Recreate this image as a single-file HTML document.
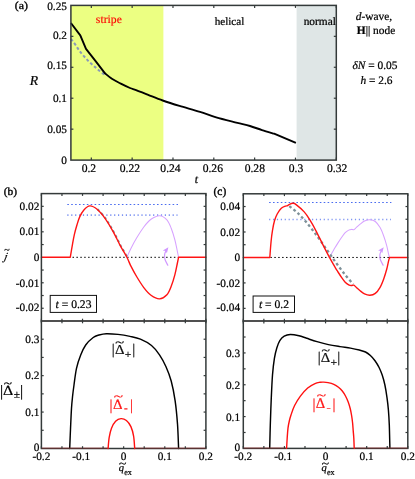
<!DOCTYPE html>
<html><head><meta charset="utf-8"><style>
html,body{margin:0;padding:0;background:#fff;}
body{width:415px;height:479px;overflow:hidden;}
svg{display:block;font-family:'Liberation Serif','Times New Roman',serif}
text{text-rendering:geometricPrecision;font-kerning:none;}
.pl{stroke-width:0.35px}
.thin{stroke-width:0.12px}
</style></head><body>
<svg width="415" height="479" viewBox="0 0 415 479" font-family="'Liberation Serif','Times New Roman',serif">
<rect x="70.9" y="5.4" width="92.48" height="154.7" fill="#ecff82"/>
<rect x="296.6" y="5.4" width="39.7" height="154.7" fill="#dfe6e6"/>
<text x="95.87" y="22.56" font-size="11.7" fill="#ff0000" class="thin" stroke="#ff0000" stroke-width="0.22">stripe</text>
<text x="214.64" y="25.04" font-size="11.16" fill="#000" stroke="#000" stroke-width="0.22">helical</text>
<text x="303.69" y="25.44" font-size="11.36" fill="#000" stroke="#000" stroke-width="0.22">normal</text>
<path d="M71 39C71.35 39.43 72.27 40.5 73.1 41.6C73.93 42.7 75.05 44.23 76 45.6C76.95 46.97 77.82 48.4 78.8 49.8C79.78 51.2 80.8 52.67 81.9 54C83 55.33 84.25 56.57 85.4 57.8C86.55 59.03 87.6 60.22 88.8 61.4C90 62.58 91.37 63.8 92.6 64.9C93.83 66 94.97 66.95 96.2 68C97.43 69.05 98.78 70.22 100 71.2C101.22 72.18 102.57 73.27 103.5 73.9C104.43 74.53 105.25 74.82 105.6 75" fill="none" stroke="#8a9ab8" stroke-width="2" stroke-linejoin="round" stroke-dasharray="2.9 2.2" stroke-linecap="butt"/>
<path d="M70.9 23 L80.3 35.3 L86 48.9 L95.8 61.3 L105 73.3C106.15 74.22 109.35 77.12 111.9 78.8C114.45 80.48 117.28 81.87 120.3 83.4C123.32 84.93 127.37 86.88 130 88C132.63 89.12 133.07 88.95 136.1 90.1C139.13 91.25 143.77 93.17 148.2 94.9C152.63 96.63 157.48 98.67 162.7 100.5C167.92 102.33 173.28 104.02 179.5 105.9C185.72 107.78 193.88 109.88 200 111.8C206.12 113.72 209.97 115.57 216.2 117.4C222.43 119.23 231.77 121.37 237.4 122.8C243.03 124.23 245.9 124.78 250 126C254.1 127.22 257.98 128.82 262 130.1C266.02 131.38 272.08 133.1 274.1 133.7 L295.9 142.9" fill="none" stroke="#000" stroke-width="1.9" stroke-linejoin="round" stroke-linecap="butt"/>
<rect x="70.9" y="5.4" width="265.4" height="154.7" fill="none" stroke="#343a3a" stroke-width="1.5"/>
<line x1="91.32" y1="160.1" x2="91.32" y2="157.6" stroke="#343a3a" stroke-width="1.2"/>
<line x1="91.32" y1="5.4" x2="91.32" y2="7.9" stroke="#343a3a" stroke-width="1.2"/>
<text x="88.9" y="171.6" font-size="11.6" text-anchor="middle" fill="#000" stroke="#000" stroke-width="0.22">0.2</text>
<line x1="132.15" y1="160.1" x2="132.15" y2="157.6" stroke="#343a3a" stroke-width="1.2"/>
<line x1="132.15" y1="5.4" x2="132.15" y2="7.9" stroke="#343a3a" stroke-width="1.2"/>
<text x="129.9" y="171.6" font-size="11.6" text-anchor="middle" fill="#000" stroke="#000" stroke-width="0.22">0.22</text>
<line x1="172.98" y1="160.1" x2="172.98" y2="157.6" stroke="#343a3a" stroke-width="1.2"/>
<line x1="172.98" y1="5.4" x2="172.98" y2="7.9" stroke="#343a3a" stroke-width="1.2"/>
<text x="170.5" y="171.6" font-size="11.6" text-anchor="middle" fill="#000" stroke="#000" stroke-width="0.22">0.24</text>
<line x1="213.81" y1="160.1" x2="213.81" y2="157.6" stroke="#343a3a" stroke-width="1.2"/>
<line x1="213.81" y1="5.4" x2="213.81" y2="7.9" stroke="#343a3a" stroke-width="1.2"/>
<text x="212.8" y="171.6" font-size="11.6" text-anchor="middle" fill="#000" stroke="#000" stroke-width="0.22">0.26</text>
<line x1="254.64" y1="160.1" x2="254.64" y2="157.6" stroke="#343a3a" stroke-width="1.2"/>
<line x1="254.64" y1="5.4" x2="254.64" y2="7.9" stroke="#343a3a" stroke-width="1.2"/>
<text x="254.8" y="171.6" font-size="11.6" text-anchor="middle" fill="#000" stroke="#000" stroke-width="0.22">0.28</text>
<line x1="295.47" y1="160.1" x2="295.47" y2="157.6" stroke="#343a3a" stroke-width="1.2"/>
<line x1="295.47" y1="5.4" x2="295.47" y2="7.9" stroke="#343a3a" stroke-width="1.2"/>
<text x="296" y="171.6" font-size="11.6" text-anchor="middle" fill="#000" stroke="#000" stroke-width="0.22">0.3</text>
<line x1="336.3" y1="160.1" x2="336.3" y2="157.6" stroke="#343a3a" stroke-width="1.2"/>
<line x1="336.3" y1="5.4" x2="336.3" y2="7.9" stroke="#343a3a" stroke-width="1.2"/>
<text x="337.2" y="171.6" font-size="11.6" text-anchor="middle" fill="#000" stroke="#000" stroke-width="0.22">0.32</text>
<line x1="70.9" y1="129.16" x2="73.4" y2="129.16" stroke="#343a3a" stroke-width="1.2"/>
<line x1="336.3" y1="129.16" x2="333.8" y2="129.16" stroke="#343a3a" stroke-width="1.2"/>
<line x1="70.9" y1="98.22" x2="73.4" y2="98.22" stroke="#343a3a" stroke-width="1.2"/>
<line x1="336.3" y1="98.22" x2="333.8" y2="98.22" stroke="#343a3a" stroke-width="1.2"/>
<line x1="70.9" y1="67.28" x2="73.4" y2="67.28" stroke="#343a3a" stroke-width="1.2"/>
<line x1="336.3" y1="67.28" x2="333.8" y2="67.28" stroke="#343a3a" stroke-width="1.2"/>
<line x1="70.9" y1="36.34" x2="73.4" y2="36.34" stroke="#343a3a" stroke-width="1.2"/>
<line x1="336.3" y1="36.34" x2="333.8" y2="36.34" stroke="#343a3a" stroke-width="1.2"/>
<text x="67" y="10.4" font-size="11.3" text-anchor="end" fill="#000" stroke="#000" stroke-width="0.22">0.25</text>
<text x="67" y="38.7" font-size="11.3" text-anchor="end" fill="#000" stroke="#000" stroke-width="0.22">0.2</text>
<text x="67" y="69" font-size="11.3" text-anchor="end" fill="#000" stroke="#000" stroke-width="0.22">0.15</text>
<text x="67" y="101.6" font-size="11.3" text-anchor="end" fill="#000" stroke="#000" stroke-width="0.22">0.1</text>
<text x="67" y="133.2" font-size="11.3" text-anchor="end" fill="#000" stroke="#000" stroke-width="0.22">0.05</text>
<text x="67" y="164.1" font-size="11.3" text-anchor="end" fill="#000" stroke="#000" stroke-width="0.22">0</text>
<text x="29.72" y="84.55" font-size="13.74" fill="#000" font-style="italic" stroke="#000" stroke-width="0.22">R</text>
<text x="194.74" y="183.14" font-size="11.7" fill="#000" font-style="italic" stroke="#000" stroke-width="0.22">t</text>
<text transform="translate(14.73 8.95) scale(1.095 1)" font-size="10.81" fill="#000" class="pl" stroke="#000" stroke-width="0.22">(a)</text>
<text x="374" y="19.6" font-size="11.4" text-anchor="middle" stroke="#000" stroke-width="0.22"><tspan font-style="italic">d</tspan>-wave,</text>
<text x="376" y="33.8" font-size="11.4" text-anchor="middle" stroke="#000" stroke-width="0.22"><tspan font-weight="bold">H</tspan>|| node</text>
<text x="375" y="68.5" font-size="11.4" text-anchor="middle" stroke="#000" stroke-width="0.22"><tspan font-style="italic">&#948;N</tspan> = 0.05</text>
<text x="376.5" y="83.5" font-size="11.4" text-anchor="middle" stroke="#000" stroke-width="0.22"><tspan font-style="italic">h</tspan> = 2.6</text>
<line x1="67.3" y1="204.5" x2="178" y2="204.5" stroke="#4a6cf0" stroke-width="1.0" stroke-dasharray="1.6 2.3"/>
<line x1="67.3" y1="215.1" x2="177.5" y2="215.1" stroke="#7f95f2" stroke-width="1.7" stroke-dasharray="1.2 2.7"/>
<line x1="72.5" y1="257.3" x2="178" y2="257.3" stroke="#000" stroke-width="1.0" stroke-dasharray="1.5 2.4"/>
<path d="M126.9 257.3C127.55 255.87 129.18 251.9 130.8 248.7C132.42 245.5 134.43 241.72 136.6 238.1C138.77 234.48 141.4 230.13 143.8 227C146.2 223.87 148.38 221.18 151 219.3C153.62 217.42 156.85 215.62 159.5 215.7C162.15 215.78 164.93 217.67 166.9 219.8C168.87 221.93 169.97 225.13 171.3 228.5C172.63 231.87 173.9 236.23 174.9 240C175.9 243.77 176.68 248.2 177.3 251.1C177.92 254 178.38 256.35 178.6 257.4" fill="none" stroke="#d7a2ff" stroke-width="1.05" stroke-linejoin="round" stroke-linecap="round"/>
<path d="M97.45 209.05C98.8 210.6 102.83 214.55 105.55 218.35C108.27 222.15 111.27 227.4 113.75 231.85C116.23 236.3 118.2 240.85 120.45 245.05C122.7 249.25 126.12 255.05 127.25 257.05" fill="none" stroke="#7d9098" stroke-width="1.8" stroke-linejoin="round" stroke-dasharray="2.7 2.6" stroke-linecap="butt"/>
<path d="M41.4 257.3 L70.3 257.2C70.65 255.13 71.72 248.6 72.4 244.8C73.08 241 73.63 237.73 74.4 234.4C75.17 231.07 76.12 227.72 77 224.8C77.88 221.88 78.58 219.33 79.7 216.9C80.82 214.47 82.02 212.03 83.7 210.2C85.38 208.37 87.57 206.05 89.8 205.9C92.03 205.75 94.53 207.18 97.1 209.3C99.67 211.42 102.48 214.8 105.2 218.6C107.92 222.4 110.92 227.65 113.4 232.1C115.88 236.55 117.85 241.1 120.1 245.3C122.35 249.5 125.12 253.87 126.9 257.3C128.68 260.73 129.18 262.7 130.8 265.9C132.42 269.1 134.43 272.88 136.6 276.5C138.77 280.12 141.4 284.47 143.8 287.6C146.2 290.73 148.38 293.42 151 295.3C153.62 297.18 156.85 298.98 159.5 298.9C162.15 298.82 164.93 296.93 166.9 294.8C168.87 292.67 169.97 289.47 171.3 286.1C172.63 282.73 173.9 278.37 174.9 274.6C175.9 270.83 176.68 266.4 177.3 263.5C177.92 260.6 178.38 258.25 178.6 257.2L205.9 257.3" fill="none" stroke="#ff1414" stroke-width="1.4" stroke-linejoin="round" stroke-linecap="round"/>
<path d="M167.8 265.2C167.33 264.25 165.53 261.25 165 259.5C164.47 257.75 164.47 256.08 164.6 254.7C164.73 253.32 165.6 251.78 165.8 251.2" fill="none" stroke="#d097ff" stroke-width="1.2" stroke-linejoin="round" stroke-linecap="round"/>
<path d="M168.4 247.2 L162.8 250.6 L165.6 251 L166.9 253.2 Z" fill="#d097ff"/>
<path d="M69.7 448.5C69.83 445.28 70.2 435.9 70.5 429.2C70.8 422.5 71.15 413.83 71.5 408.3C71.85 402.77 72.18 399.88 72.6 396C73.02 392.12 73.35 389.62 74 385C74.65 380.38 75.38 373.3 76.5 368.3C77.62 363.3 79.17 358.88 80.7 355C82.23 351.12 83.62 347.92 85.7 345C87.78 342.08 90.98 339.17 93.2 337.5C95.42 335.83 96.82 335.63 99 335C101.18 334.37 103.13 333.8 106.3 333.7C109.47 333.6 114.05 333.95 118 334.4C121.95 334.85 126.27 335.6 130 336.4C133.73 337.2 136.82 337.68 140.4 339.2C143.98 340.72 148.32 342.9 151.5 345.5C154.68 348.1 157.08 351.27 159.5 354.8C161.92 358.33 164.05 362.33 166 366.7C167.95 371.07 169.68 375.35 171.2 381C172.72 386.65 174.05 393.43 175.1 400.6C176.15 407.77 176.92 416.02 177.5 424C178.08 431.98 178.42 444.42 178.6 448.5" fill="none" stroke="#000" stroke-width="1.45" stroke-linejoin="round" stroke-linecap="round"/>
<rect x="41.4" y="193.6" width="164.5" height="127.4" fill="none" stroke="#343a3a" stroke-width="1.5"/>
<rect x="41.4" y="321" width="164.5" height="127.5" fill="none" stroke="#343a3a" stroke-width="1.5"/>
<line x1="42.1" y1="321" x2="205.2" y2="321" stroke="#505050" stroke-width="1.9"/>
<line x1="41.4" y1="448.1" x2="108.1" y2="448.1" stroke="#a02525" stroke-width="1.0" stroke-opacity="0.6"/>
<line x1="134.7" y1="448.1" x2="205.9" y2="448.1" stroke="#a02525" stroke-width="1.0" stroke-opacity="0.6"/>
<path d="M108.1 448.5C108.28 446.65 108.63 440.78 109.2 437.4C109.77 434.02 110.43 430.9 111.5 428.2C112.57 425.5 114.02 422.8 115.6 421.2C117.18 419.6 119.2 418.72 121 418.6C122.8 418.48 124.75 419.17 126.4 420.5C128.05 421.83 129.7 424 130.9 426.6C132.1 429.2 132.97 432.45 133.6 436.1C134.23 439.75 134.52 446.43 134.7 448.5" fill="none" stroke="#ff1010" stroke-width="1.4" stroke-linejoin="round" stroke-linecap="round"/>
<line x1="41.4" y1="193.6" x2="41.4" y2="195.9" stroke="#343a3a" stroke-width="1.2"/>
<line x1="41.4" y1="321" x2="41.4" y2="318.7" stroke="#343a3a" stroke-width="1.2"/>
<line x1="41.4" y1="321" x2="41.4" y2="323.3" stroke="#343a3a" stroke-width="1.2"/>
<line x1="41.4" y1="448.5" x2="41.4" y2="446.2" stroke="#343a3a" stroke-width="1.2"/>
<line x1="61.96" y1="193.6" x2="61.96" y2="195.9" stroke="#343a3a" stroke-width="1.2"/>
<line x1="61.96" y1="321" x2="61.96" y2="318.7" stroke="#343a3a" stroke-width="1.2"/>
<line x1="61.96" y1="321" x2="61.96" y2="323.3" stroke="#343a3a" stroke-width="1.2"/>
<line x1="61.96" y1="448.5" x2="61.96" y2="446.2" stroke="#343a3a" stroke-width="1.2"/>
<line x1="82.53" y1="193.6" x2="82.53" y2="195.9" stroke="#343a3a" stroke-width="1.2"/>
<line x1="82.53" y1="321" x2="82.53" y2="318.7" stroke="#343a3a" stroke-width="1.2"/>
<line x1="82.53" y1="321" x2="82.53" y2="323.3" stroke="#343a3a" stroke-width="1.2"/>
<line x1="82.53" y1="448.5" x2="82.53" y2="446.2" stroke="#343a3a" stroke-width="1.2"/>
<line x1="103.09" y1="193.6" x2="103.09" y2="195.9" stroke="#343a3a" stroke-width="1.2"/>
<line x1="103.09" y1="321" x2="103.09" y2="318.7" stroke="#343a3a" stroke-width="1.2"/>
<line x1="103.09" y1="321" x2="103.09" y2="323.3" stroke="#343a3a" stroke-width="1.2"/>
<line x1="103.09" y1="448.5" x2="103.09" y2="446.2" stroke="#343a3a" stroke-width="1.2"/>
<line x1="123.65" y1="193.6" x2="123.65" y2="195.9" stroke="#343a3a" stroke-width="1.2"/>
<line x1="123.65" y1="321" x2="123.65" y2="318.7" stroke="#343a3a" stroke-width="1.2"/>
<line x1="123.65" y1="321" x2="123.65" y2="323.3" stroke="#343a3a" stroke-width="1.2"/>
<line x1="123.65" y1="448.5" x2="123.65" y2="446.2" stroke="#343a3a" stroke-width="1.2"/>
<line x1="144.21" y1="193.6" x2="144.21" y2="195.9" stroke="#343a3a" stroke-width="1.2"/>
<line x1="144.21" y1="321" x2="144.21" y2="318.7" stroke="#343a3a" stroke-width="1.2"/>
<line x1="144.21" y1="321" x2="144.21" y2="323.3" stroke="#343a3a" stroke-width="1.2"/>
<line x1="144.21" y1="448.5" x2="144.21" y2="446.2" stroke="#343a3a" stroke-width="1.2"/>
<line x1="164.78" y1="193.6" x2="164.78" y2="195.9" stroke="#343a3a" stroke-width="1.2"/>
<line x1="164.78" y1="321" x2="164.78" y2="318.7" stroke="#343a3a" stroke-width="1.2"/>
<line x1="164.78" y1="321" x2="164.78" y2="323.3" stroke="#343a3a" stroke-width="1.2"/>
<line x1="164.78" y1="448.5" x2="164.78" y2="446.2" stroke="#343a3a" stroke-width="1.2"/>
<line x1="185.34" y1="193.6" x2="185.34" y2="195.9" stroke="#343a3a" stroke-width="1.2"/>
<line x1="185.34" y1="321" x2="185.34" y2="318.7" stroke="#343a3a" stroke-width="1.2"/>
<line x1="185.34" y1="321" x2="185.34" y2="323.3" stroke="#343a3a" stroke-width="1.2"/>
<line x1="185.34" y1="448.5" x2="185.34" y2="446.2" stroke="#343a3a" stroke-width="1.2"/>
<line x1="205.9" y1="193.6" x2="205.9" y2="195.9" stroke="#343a3a" stroke-width="1.2"/>
<line x1="205.9" y1="321" x2="205.9" y2="318.7" stroke="#343a3a" stroke-width="1.2"/>
<line x1="205.9" y1="321" x2="205.9" y2="323.3" stroke="#343a3a" stroke-width="1.2"/>
<line x1="205.9" y1="448.5" x2="205.9" y2="446.2" stroke="#343a3a" stroke-width="1.2"/>
<line x1="41.4" y1="308.26" x2="43.7" y2="308.26" stroke="#343a3a" stroke-width="1.2"/>
<line x1="205.9" y1="308.26" x2="203.6" y2="308.26" stroke="#343a3a" stroke-width="1.2"/>
<line x1="41.4" y1="295.52" x2="43.7" y2="295.52" stroke="#343a3a" stroke-width="1.2"/>
<line x1="205.9" y1="295.52" x2="203.6" y2="295.52" stroke="#343a3a" stroke-width="1.2"/>
<line x1="41.4" y1="282.78" x2="43.7" y2="282.78" stroke="#343a3a" stroke-width="1.2"/>
<line x1="205.9" y1="282.78" x2="203.6" y2="282.78" stroke="#343a3a" stroke-width="1.2"/>
<line x1="41.4" y1="270.04" x2="43.7" y2="270.04" stroke="#343a3a" stroke-width="1.2"/>
<line x1="205.9" y1="270.04" x2="203.6" y2="270.04" stroke="#343a3a" stroke-width="1.2"/>
<line x1="41.4" y1="244.56" x2="43.7" y2="244.56" stroke="#343a3a" stroke-width="1.2"/>
<line x1="205.9" y1="244.56" x2="203.6" y2="244.56" stroke="#343a3a" stroke-width="1.2"/>
<line x1="41.4" y1="231.82" x2="43.7" y2="231.82" stroke="#343a3a" stroke-width="1.2"/>
<line x1="205.9" y1="231.82" x2="203.6" y2="231.82" stroke="#343a3a" stroke-width="1.2"/>
<line x1="41.4" y1="219.08" x2="43.7" y2="219.08" stroke="#343a3a" stroke-width="1.2"/>
<line x1="205.9" y1="219.08" x2="203.6" y2="219.08" stroke="#343a3a" stroke-width="1.2"/>
<line x1="41.4" y1="206.34" x2="43.7" y2="206.34" stroke="#343a3a" stroke-width="1.2"/>
<line x1="205.9" y1="206.34" x2="203.6" y2="206.34" stroke="#343a3a" stroke-width="1.2"/>
<line x1="41.4" y1="430.29" x2="43.7" y2="430.29" stroke="#343a3a" stroke-width="1.2"/>
<line x1="205.9" y1="430.29" x2="203.6" y2="430.29" stroke="#343a3a" stroke-width="1.2"/>
<line x1="41.4" y1="412.07" x2="43.7" y2="412.07" stroke="#343a3a" stroke-width="1.2"/>
<line x1="205.9" y1="412.07" x2="203.6" y2="412.07" stroke="#343a3a" stroke-width="1.2"/>
<line x1="41.4" y1="393.86" x2="43.7" y2="393.86" stroke="#343a3a" stroke-width="1.2"/>
<line x1="205.9" y1="393.86" x2="203.6" y2="393.86" stroke="#343a3a" stroke-width="1.2"/>
<line x1="41.4" y1="375.64" x2="43.7" y2="375.64" stroke="#343a3a" stroke-width="1.2"/>
<line x1="205.9" y1="375.64" x2="203.6" y2="375.64" stroke="#343a3a" stroke-width="1.2"/>
<line x1="41.4" y1="357.43" x2="43.7" y2="357.43" stroke="#343a3a" stroke-width="1.2"/>
<line x1="205.9" y1="357.43" x2="203.6" y2="357.43" stroke="#343a3a" stroke-width="1.2"/>
<line x1="41.4" y1="339.21" x2="43.7" y2="339.21" stroke="#343a3a" stroke-width="1.2"/>
<line x1="205.9" y1="339.21" x2="203.6" y2="339.21" stroke="#343a3a" stroke-width="1.2"/>
<text x="39.4" y="209.9" font-size="11.3" text-anchor="end" fill="#000" stroke="#000" stroke-width="0.22">0.02</text>
<text x="39.4" y="235.3" font-size="11.3" text-anchor="end" fill="#000" stroke="#000" stroke-width="0.22">0.01</text>
<text x="39.4" y="260.9" font-size="11.3" text-anchor="end" fill="#000" stroke="#000" stroke-width="0.22">0</text>
<text x="39.4" y="286.6" font-size="11.3" text-anchor="end" fill="#000" stroke="#000" stroke-width="0.22">-0.01</text>
<text x="39.4" y="311.4" font-size="11.3" text-anchor="end" fill="#000" stroke="#000" stroke-width="0.22">-0.02</text>
<text x="39.4" y="343" font-size="11.3" text-anchor="end" fill="#000" stroke="#000" stroke-width="0.22">0.3</text>
<text x="39.4" y="379.4" font-size="11.3" text-anchor="end" fill="#000" stroke="#000" stroke-width="0.22">0.2</text>
<text x="39.4" y="415.8" font-size="11.3" text-anchor="end" fill="#000" stroke="#000" stroke-width="0.22">0.1</text>
<text x="39.4" y="451.2" font-size="11.3" text-anchor="end" fill="#000" stroke="#000" stroke-width="0.22">0</text>
<text x="41.4" y="459.8" font-size="11.3" text-anchor="middle" fill="#000" stroke="#000" stroke-width="0.22">-0.2</text>
<text x="81.23" y="459.8" font-size="11.3" text-anchor="middle" fill="#000" stroke="#000" stroke-width="0.22">-0.1</text>
<text x="123.65" y="459.8" font-size="11.3" text-anchor="middle" fill="#000" stroke="#000" stroke-width="0.22">0</text>
<text x="164.78" y="459.8" font-size="11.3" text-anchor="middle" fill="#000" stroke="#000" stroke-width="0.22">0.1</text>
<text x="205.9" y="459.8" font-size="11.3" text-anchor="middle" fill="#000" stroke="#000" stroke-width="0.22">0.2</text>
<text x="118.7" y="471.41" font-size="10.53" fill="#000" font-style="italic" stroke="#000" stroke-width="0.22">q</text>
<text transform="translate(118.97 467.16) scale(1.298 1)" font-size="10.5" fill="#000" stroke="#000" stroke-width="0.22">~</text>
<text transform="translate(124.13 475.37) scale(0.946 1)" font-size="8.52" fill="#000" stroke="#000" stroke-width="0.22">ex</text>
<text transform="translate(3.75 194.83) scale(1.045 1)" font-size="10.92" fill="#000" class="pl" stroke="#000" stroke-width="0.22">(b)</text>
<rect x="50.2" y="295.4" width="46.3" height="17" fill="#fff" stroke="#111" stroke-width="1"/>
<text x="73.55" y="308.2" font-size="11.6" text-anchor="middle" stroke="#000" stroke-width="0.22"><tspan font-style="italic">t</tspan> = 0.23</text>
<text transform="translate(3.71 260.14) skewX(-12)" font-size="10.86" fill="#000" font-style="italic" stroke="#000" stroke-width="0.22">j</text>
<text x="4.37" y="252.74" font-size="10" fill="#000" stroke="#000" stroke-width="0.22">~</text>
<text x="0.06" y="395.93" font-size="15.83" fill="#000" stroke="#000" stroke-width="0.22">|</text>
<text transform="translate(3.82 386.57) scale(1.389 1)" font-size="11" fill="#000" stroke="#000" stroke-width="0.22">~</text>
<text transform="translate(3.05 395.45) scale(1.126 1)" font-size="14.09" fill="#000" stroke="#000" stroke-width="0.22">Δ</text>
<text transform="translate(13.78 397.55) scale(1.038 1)" font-size="10.97" fill="#000" stroke="#000" stroke-width="0.22">±</text>
<text x="19.96" y="395.93" font-size="15.83" fill="#000" stroke="#000" stroke-width="0.22">|</text>
<text x="111.64" y="354.47" font-size="14.73" fill="#111" stroke="#111" stroke-width="0.22">|</text>
<text transform="translate(115.19 346.02) scale(1.501 1)" font-size="11" fill="#111" stroke="#111" stroke-width="0.22">~</text>
<text transform="translate(115.09 354.35) scale(1.086 1)" font-size="13.63" fill="#111" stroke="#111" stroke-width="0.22">Δ</text>
<text transform="translate(124.87 357.64) scale(1.060 1)" font-size="10.95" fill="#111" stroke="#111" stroke-width="0.22">+</text>
<text x="132.24" y="354.47" font-size="14.73" fill="#111" stroke="#111" stroke-width="0.22">|</text>
<text x="109.52" y="409.7" font-size="15.06" fill="#ff1a1a" stroke="#ff1a1a" stroke-width="0.22">|</text>
<text transform="translate(113.87 400.47) scale(1.558 1)" font-size="11" fill="#ff1a1a" stroke="#ff1a1a" stroke-width="0.22">~</text>
<text transform="translate(112.99 409.35) scale(1.040 1)" font-size="14.24" fill="#ff1a1a" stroke="#ff1a1a" stroke-width="0.22">Δ</text>
<text transform="translate(124.04 412) scale(0.834 1)" font-size="13.39" fill="#ff1a1a" stroke="#ff1a1a" stroke-width="0.22">-</text>
<text x="130.12" y="409.7" font-size="15.06" fill="#ff1a1a" stroke="#ff1a1a" stroke-width="0.22">|</text>
<line x1="269.1" y1="202.5" x2="391.4" y2="202.5" stroke="#4a6cf0" stroke-width="1.0" stroke-dasharray="1.6 2.3"/>
<line x1="269.1" y1="219.5" x2="390.9" y2="219.5" stroke="#7f95f2" stroke-width="1.7" stroke-dasharray="1.2 2.7"/>
<line x1="270.4" y1="257.45" x2="389.8" y2="257.45" stroke="#000" stroke-width="1.0" stroke-dasharray="1.5 2.4"/>
<path d="M329.6 257.3C330.52 255.68 333.7 250 335.1 247.6C336.5 245.2 336.9 244.62 338 242.9C339.1 241.18 340.5 239 341.7 237.3C342.9 235.6 344.03 233.9 345.2 232.7C346.37 231.5 347.67 230.65 348.7 230.1C349.73 229.55 350.55 229.47 351.4 229.4C352.25 229.33 353 230 353.8 229.7C354.6 229.4 355.2 228.48 356.2 227.6C357.2 226.72 358.42 225.48 359.8 224.4C361.18 223.32 362.82 221.88 364.5 221.1C366.18 220.32 368.1 219.63 369.9 219.7C371.7 219.77 373.6 220.18 375.3 221.5C377 222.82 378.7 225.18 380.1 227.6C381.5 230.02 382.6 233 383.7 236C384.8 239 385.88 242.58 386.7 245.6C387.52 248.62 388.12 252.13 388.6 254.1C389.08 256.07 389.43 256.85 389.6 257.4" fill="none" stroke="#d7a2ff" stroke-width="1.05" stroke-linejoin="round" stroke-linecap="round"/>
<path d="M289.3 206.2C290.63 207.27 294.63 210.13 297.3 212.6C299.97 215.07 302.63 217.93 305.3 221C307.97 224.07 310.63 227.52 313.3 231C315.97 234.48 318.63 238.18 321.3 241.9C323.97 245.62 326.63 249.53 329.3 253.3C331.97 257.07 334.63 260.88 337.3 264.5C339.97 268.12 342.63 271.7 345.3 275C347.97 278.3 351.97 282.75 353.3 284.3" fill="none" stroke="#7d9098" stroke-width="2.3" stroke-linejoin="round" stroke-dasharray="2.7 2.6" stroke-linecap="butt"/>
<path d="M243.3 257.45 L269.8 257.5C270.02 254.78 270.65 245.73 271.1 241.2C271.55 236.67 271.93 233.7 272.5 230.3C273.07 226.9 273.72 223.52 274.5 220.8C275.28 218.08 276.07 216.1 277.2 214C278.33 211.9 279.93 209.52 281.3 208.2C282.67 206.88 284.35 206.52 285.4 206.1C286.45 205.68 286.92 206 287.6 205.7C288.28 205.4 288.62 204.7 289.5 204.3C290.38 203.9 291.8 203.25 292.9 203.3C294 203.35 294.22 203.17 296.1 204.6C297.98 206.03 301.9 209.35 304.2 211.9C306.5 214.45 307.98 216.83 309.9 219.9C311.82 222.97 313.58 226.27 315.7 230.3C317.82 234.33 320.28 239.55 322.6 244.1C324.92 248.65 327.52 253.73 329.6 257.6C331.68 261.47 333.7 264.9 335.1 267.3C336.5 269.7 336.9 270.28 338 272C339.1 273.72 340.5 275.9 341.7 277.6C342.9 279.3 344.03 281 345.2 282.2C346.37 283.4 347.67 284.25 348.7 284.8C349.73 285.35 350.55 285.43 351.4 285.5C352.25 285.57 353 284.9 353.8 285.2C354.6 285.5 355.2 286.42 356.2 287.3C357.2 288.18 358.42 289.42 359.8 290.5C361.18 291.58 362.82 293.02 364.5 293.8C366.18 294.58 368.1 295.27 369.9 295.2C371.7 295.13 373.6 294.72 375.3 293.4C377 292.08 378.7 289.72 380.1 287.3C381.5 284.88 382.6 281.9 383.7 278.9C384.8 275.9 385.88 272.32 386.7 269.3C387.52 266.28 388.12 262.77 388.6 260.8C389.08 258.83 389.43 258.05 389.6 257.5L407.8 257.45" fill="none" stroke="#ff1414" stroke-width="1.4" stroke-linejoin="round" stroke-linecap="round"/>
<path d="M383.1 265.2C382.63 264.25 380.83 261.25 380.3 259.5C379.77 257.75 379.77 256.08 379.9 254.7C380.03 253.32 380.9 251.78 381.1 251.2" fill="none" stroke="#d097ff" stroke-width="1.2" stroke-linejoin="round" stroke-linecap="round"/>
<path d="M383.7 247.2 L378.1 250.6 L380.9 251 L382.2 253.2 Z" fill="#d097ff"/>
<path d="M269.7 448.3C269.8 444.42 270.05 433.05 270.3 425C270.55 416.95 270.83 408.33 271.2 400C271.57 391.67 271.97 381.93 272.5 375C273.03 368.07 273.68 362.9 274.4 358.4C275.12 353.9 275.9 350.97 276.8 348C277.7 345.03 278.57 342.57 279.8 340.6C281.03 338.63 282.45 337.22 284.2 336.2C285.95 335.18 287.83 334.57 290.3 334.5C292.77 334.43 296.27 335.17 299 335.8C301.73 336.43 303.7 337.33 306.7 338.3C309.7 339.27 313.38 340.55 317 341.6C320.62 342.65 324.57 343.77 328.4 344.6C332.23 345.43 336.32 346.02 340 346.6C343.68 347.18 347.28 347.53 350.5 348.1C353.72 348.67 356.8 349.35 359.3 350C361.8 350.65 363.65 351.08 365.5 352C367.35 352.92 368.82 354.05 370.4 355.5C371.98 356.95 373.55 358.7 375 360.7C376.45 362.7 377.9 365.1 379.1 367.5C380.3 369.9 381.23 372.18 382.2 375.1C383.17 378.02 384.1 381.25 384.9 385C385.7 388.75 386.42 393.43 387 397.6C387.58 401.77 388.02 405.43 388.4 410C388.78 414.57 389.05 418.62 389.3 425C389.55 431.38 389.8 444.42 389.9 448.3" fill="none" stroke="#000" stroke-width="1.45" stroke-linejoin="round" stroke-linecap="round"/>
<rect x="243.3" y="193.8" width="164.5" height="127.3" fill="none" stroke="#343a3a" stroke-width="1.5"/>
<rect x="243.3" y="321.1" width="164.5" height="127.3" fill="none" stroke="#343a3a" stroke-width="1.5"/>
<line x1="244" y1="321.1" x2="407.1" y2="321.1" stroke="#505050" stroke-width="1.9"/>
<line x1="243.3" y1="448" x2="286.6" y2="448" stroke="#a02525" stroke-width="1.0" stroke-opacity="0.6"/>
<line x1="354.2" y1="448" x2="407.8" y2="448" stroke="#a02525" stroke-width="1.0" stroke-opacity="0.6"/>
<path d="M286.6 448.3C286.7 446.58 286.97 441.35 287.2 438C287.43 434.65 287.65 431.03 288 428.2C288.35 425.37 288.8 423.2 289.3 421C289.8 418.8 290.12 417.58 291 415C291.88 412.42 293.03 408.65 294.6 405.5C296.17 402.35 298.22 399.02 300.4 396.1C302.58 393.18 305.27 390.08 307.7 388C310.13 385.92 312.95 384.55 315 383.6C317.05 382.65 318.55 382.55 320 382.3C321.45 382.05 322.37 382.05 323.7 382.1C325.03 382.15 326.32 382.23 328 382.6C329.68 382.97 332.05 383.53 333.8 384.3C335.55 385.07 337.08 386.08 338.5 387.2C339.92 388.32 341.13 389.53 342.3 391C343.47 392.47 344.52 394.17 345.5 396C346.48 397.83 347.42 399.92 348.2 402C348.98 404.08 349.63 406.25 350.2 408.5C350.77 410.75 351.2 413.08 351.6 415.5C352 417.92 352.33 420.48 352.6 423C352.87 425.52 353 428.1 353.2 430.6C353.4 433.1 353.63 435.05 353.8 438C353.97 440.95 354.13 446.58 354.2 448.3" fill="none" stroke="#ff1010" stroke-width="1.4" stroke-linejoin="round" stroke-linecap="round"/>
<line x1="243.3" y1="193.8" x2="243.3" y2="196.1" stroke="#343a3a" stroke-width="1.2"/>
<line x1="243.3" y1="321.1" x2="243.3" y2="318.8" stroke="#343a3a" stroke-width="1.2"/>
<line x1="243.3" y1="321.1" x2="243.3" y2="323.4" stroke="#343a3a" stroke-width="1.2"/>
<line x1="243.3" y1="448.4" x2="243.3" y2="446.1" stroke="#343a3a" stroke-width="1.2"/>
<line x1="263.86" y1="193.8" x2="263.86" y2="196.1" stroke="#343a3a" stroke-width="1.2"/>
<line x1="263.86" y1="321.1" x2="263.86" y2="318.8" stroke="#343a3a" stroke-width="1.2"/>
<line x1="263.86" y1="321.1" x2="263.86" y2="323.4" stroke="#343a3a" stroke-width="1.2"/>
<line x1="263.86" y1="448.4" x2="263.86" y2="446.1" stroke="#343a3a" stroke-width="1.2"/>
<line x1="284.43" y1="193.8" x2="284.43" y2="196.1" stroke="#343a3a" stroke-width="1.2"/>
<line x1="284.43" y1="321.1" x2="284.43" y2="318.8" stroke="#343a3a" stroke-width="1.2"/>
<line x1="284.43" y1="321.1" x2="284.43" y2="323.4" stroke="#343a3a" stroke-width="1.2"/>
<line x1="284.43" y1="448.4" x2="284.43" y2="446.1" stroke="#343a3a" stroke-width="1.2"/>
<line x1="304.99" y1="193.8" x2="304.99" y2="196.1" stroke="#343a3a" stroke-width="1.2"/>
<line x1="304.99" y1="321.1" x2="304.99" y2="318.8" stroke="#343a3a" stroke-width="1.2"/>
<line x1="304.99" y1="321.1" x2="304.99" y2="323.4" stroke="#343a3a" stroke-width="1.2"/>
<line x1="304.99" y1="448.4" x2="304.99" y2="446.1" stroke="#343a3a" stroke-width="1.2"/>
<line x1="325.55" y1="193.8" x2="325.55" y2="196.1" stroke="#343a3a" stroke-width="1.2"/>
<line x1="325.55" y1="321.1" x2="325.55" y2="318.8" stroke="#343a3a" stroke-width="1.2"/>
<line x1="325.55" y1="321.1" x2="325.55" y2="323.4" stroke="#343a3a" stroke-width="1.2"/>
<line x1="325.55" y1="448.4" x2="325.55" y2="446.1" stroke="#343a3a" stroke-width="1.2"/>
<line x1="346.11" y1="193.8" x2="346.11" y2="196.1" stroke="#343a3a" stroke-width="1.2"/>
<line x1="346.11" y1="321.1" x2="346.11" y2="318.8" stroke="#343a3a" stroke-width="1.2"/>
<line x1="346.11" y1="321.1" x2="346.11" y2="323.4" stroke="#343a3a" stroke-width="1.2"/>
<line x1="346.11" y1="448.4" x2="346.11" y2="446.1" stroke="#343a3a" stroke-width="1.2"/>
<line x1="366.68" y1="193.8" x2="366.68" y2="196.1" stroke="#343a3a" stroke-width="1.2"/>
<line x1="366.68" y1="321.1" x2="366.68" y2="318.8" stroke="#343a3a" stroke-width="1.2"/>
<line x1="366.68" y1="321.1" x2="366.68" y2="323.4" stroke="#343a3a" stroke-width="1.2"/>
<line x1="366.68" y1="448.4" x2="366.68" y2="446.1" stroke="#343a3a" stroke-width="1.2"/>
<line x1="387.24" y1="193.8" x2="387.24" y2="196.1" stroke="#343a3a" stroke-width="1.2"/>
<line x1="387.24" y1="321.1" x2="387.24" y2="318.8" stroke="#343a3a" stroke-width="1.2"/>
<line x1="387.24" y1="321.1" x2="387.24" y2="323.4" stroke="#343a3a" stroke-width="1.2"/>
<line x1="387.24" y1="448.4" x2="387.24" y2="446.1" stroke="#343a3a" stroke-width="1.2"/>
<line x1="407.8" y1="193.8" x2="407.8" y2="196.1" stroke="#343a3a" stroke-width="1.2"/>
<line x1="407.8" y1="321.1" x2="407.8" y2="318.8" stroke="#343a3a" stroke-width="1.2"/>
<line x1="407.8" y1="321.1" x2="407.8" y2="323.4" stroke="#343a3a" stroke-width="1.2"/>
<line x1="407.8" y1="448.4" x2="407.8" y2="446.1" stroke="#343a3a" stroke-width="1.2"/>
<line x1="243.3" y1="308.37" x2="245.6" y2="308.37" stroke="#343a3a" stroke-width="1.2"/>
<line x1="407.8" y1="308.37" x2="405.5" y2="308.37" stroke="#343a3a" stroke-width="1.2"/>
<line x1="243.3" y1="295.64" x2="245.6" y2="295.64" stroke="#343a3a" stroke-width="1.2"/>
<line x1="407.8" y1="295.64" x2="405.5" y2="295.64" stroke="#343a3a" stroke-width="1.2"/>
<line x1="243.3" y1="282.91" x2="245.6" y2="282.91" stroke="#343a3a" stroke-width="1.2"/>
<line x1="407.8" y1="282.91" x2="405.5" y2="282.91" stroke="#343a3a" stroke-width="1.2"/>
<line x1="243.3" y1="270.18" x2="245.6" y2="270.18" stroke="#343a3a" stroke-width="1.2"/>
<line x1="407.8" y1="270.18" x2="405.5" y2="270.18" stroke="#343a3a" stroke-width="1.2"/>
<line x1="243.3" y1="244.72" x2="245.6" y2="244.72" stroke="#343a3a" stroke-width="1.2"/>
<line x1="407.8" y1="244.72" x2="405.5" y2="244.72" stroke="#343a3a" stroke-width="1.2"/>
<line x1="243.3" y1="231.99" x2="245.6" y2="231.99" stroke="#343a3a" stroke-width="1.2"/>
<line x1="407.8" y1="231.99" x2="405.5" y2="231.99" stroke="#343a3a" stroke-width="1.2"/>
<line x1="243.3" y1="219.26" x2="245.6" y2="219.26" stroke="#343a3a" stroke-width="1.2"/>
<line x1="407.8" y1="219.26" x2="405.5" y2="219.26" stroke="#343a3a" stroke-width="1.2"/>
<line x1="243.3" y1="206.53" x2="245.6" y2="206.53" stroke="#343a3a" stroke-width="1.2"/>
<line x1="407.8" y1="206.53" x2="405.5" y2="206.53" stroke="#343a3a" stroke-width="1.2"/>
<line x1="243.3" y1="432.49" x2="245.6" y2="432.49" stroke="#343a3a" stroke-width="1.2"/>
<line x1="407.8" y1="432.49" x2="405.5" y2="432.49" stroke="#343a3a" stroke-width="1.2"/>
<line x1="243.3" y1="416.57" x2="245.6" y2="416.57" stroke="#343a3a" stroke-width="1.2"/>
<line x1="407.8" y1="416.57" x2="405.5" y2="416.57" stroke="#343a3a" stroke-width="1.2"/>
<line x1="243.3" y1="400.66" x2="245.6" y2="400.66" stroke="#343a3a" stroke-width="1.2"/>
<line x1="407.8" y1="400.66" x2="405.5" y2="400.66" stroke="#343a3a" stroke-width="1.2"/>
<line x1="243.3" y1="384.75" x2="245.6" y2="384.75" stroke="#343a3a" stroke-width="1.2"/>
<line x1="407.8" y1="384.75" x2="405.5" y2="384.75" stroke="#343a3a" stroke-width="1.2"/>
<line x1="243.3" y1="368.84" x2="245.6" y2="368.84" stroke="#343a3a" stroke-width="1.2"/>
<line x1="407.8" y1="368.84" x2="405.5" y2="368.84" stroke="#343a3a" stroke-width="1.2"/>
<line x1="243.3" y1="352.93" x2="245.6" y2="352.93" stroke="#343a3a" stroke-width="1.2"/>
<line x1="407.8" y1="352.93" x2="405.5" y2="352.93" stroke="#343a3a" stroke-width="1.2"/>
<line x1="243.3" y1="337.01" x2="245.6" y2="337.01" stroke="#343a3a" stroke-width="1.2"/>
<line x1="407.8" y1="337.01" x2="405.5" y2="337.01" stroke="#343a3a" stroke-width="1.2"/>
<text x="240.1" y="210.3" font-size="11.3" text-anchor="end" fill="#000" stroke="#000" stroke-width="0.22">0.04</text>
<text x="240.1" y="235.6" font-size="11.3" text-anchor="end" fill="#000" stroke="#000" stroke-width="0.22">0.02</text>
<text x="240.1" y="260.9" font-size="11.3" text-anchor="end" fill="#000" stroke="#000" stroke-width="0.22">0</text>
<text x="240.1" y="286.6" font-size="11.3" text-anchor="end" fill="#000" stroke="#000" stroke-width="0.22">-0.02</text>
<text x="240.1" y="311.4" font-size="11.3" text-anchor="end" fill="#000" stroke="#000" stroke-width="0.22">-0.04</text>
<text x="240.1" y="357.4" font-size="11.3" text-anchor="end" fill="#000" stroke="#000" stroke-width="0.22">0.3</text>
<text x="240.1" y="389.3" font-size="11.3" text-anchor="end" fill="#000" stroke="#000" stroke-width="0.22">0.2</text>
<text x="240.1" y="421.1" font-size="11.3" text-anchor="end" fill="#000" stroke="#000" stroke-width="0.22">0.1</text>
<text x="240.1" y="451.2" font-size="11.3" text-anchor="end" fill="#000" stroke="#000" stroke-width="0.22">0</text>
<text x="243.3" y="459.8" font-size="11.3" text-anchor="middle" fill="#000" stroke="#000" stroke-width="0.22">-0.2</text>
<text x="283.12" y="459.8" font-size="11.3" text-anchor="middle" fill="#000" stroke="#000" stroke-width="0.22">-0.1</text>
<text x="325.55" y="459.8" font-size="11.3" text-anchor="middle" fill="#000" stroke="#000" stroke-width="0.22">0</text>
<text x="366.68" y="459.8" font-size="11.3" text-anchor="middle" fill="#000" stroke="#000" stroke-width="0.22">0.1</text>
<text x="407.8" y="459.8" font-size="11.3" text-anchor="middle" fill="#000" stroke="#000" stroke-width="0.22">0.2</text>
<text x="321.6" y="471.41" font-size="10.53" fill="#000" font-style="italic" stroke="#000" stroke-width="0.22">q</text>
<text transform="translate(321.87 467.16) scale(1.298 1)" font-size="10.5" fill="#000" stroke="#000" stroke-width="0.22">~</text>
<text transform="translate(327.03 475.37) scale(0.946 1)" font-size="8.52" fill="#000" stroke="#000" stroke-width="0.22">ex</text>
<text transform="translate(213.55 194.98) scale(0.989 1)" font-size="11.58" fill="#000" class="pl" stroke="#000" stroke-width="0.22">(c)</text>
<rect x="253.1" y="296" width="41.4" height="16.4" fill="#fff" stroke="#111" stroke-width="1"/>
<text x="274" y="308.2" font-size="11.6" text-anchor="middle" stroke="#000" stroke-width="0.22"><tspan font-style="italic">t</tspan> = 0.2</text>
<text x="317.64" y="362.47" font-size="14.73" fill="#111" stroke="#111" stroke-width="0.22">|</text>
<text transform="translate(321.61 353.52) scale(1.426 1)" font-size="11" fill="#111" stroke="#111" stroke-width="0.22">~</text>
<text transform="translate(320.79 362.35) scale(1.073 1)" font-size="13.63" fill="#111" stroke="#111" stroke-width="0.22">Δ</text>
<text transform="translate(330.46 365.64) scale(1.080 1)" font-size="10.95" fill="#111" stroke="#111" stroke-width="0.22">+</text>
<text x="337.24" y="362.47" font-size="14.73" fill="#111" stroke="#111" stroke-width="0.22">|</text>
<text x="312.52" y="408.7" font-size="15.06" fill="#ff1a1a" stroke="#ff1a1a" stroke-width="0.22">|</text>
<text transform="translate(316.87 399.47) scale(1.558 1)" font-size="11" fill="#ff1a1a" stroke="#ff1a1a" stroke-width="0.22">~</text>
<text transform="translate(315.69 408.35) scale(0.985 1)" font-size="14.84" fill="#ff1a1a" stroke="#ff1a1a" stroke-width="0.22">Δ</text>
<text transform="translate(326.58 409.61) scale(2.373 1)" font-size="5.35" fill="#ff1a1a" stroke="#ff1a1a" stroke-width="0.22">-</text>
<text x="332.42" y="408.7" font-size="15.06" fill="#ff1a1a" stroke="#ff1a1a" stroke-width="0.22">|</text>
</svg>
</body></html>
